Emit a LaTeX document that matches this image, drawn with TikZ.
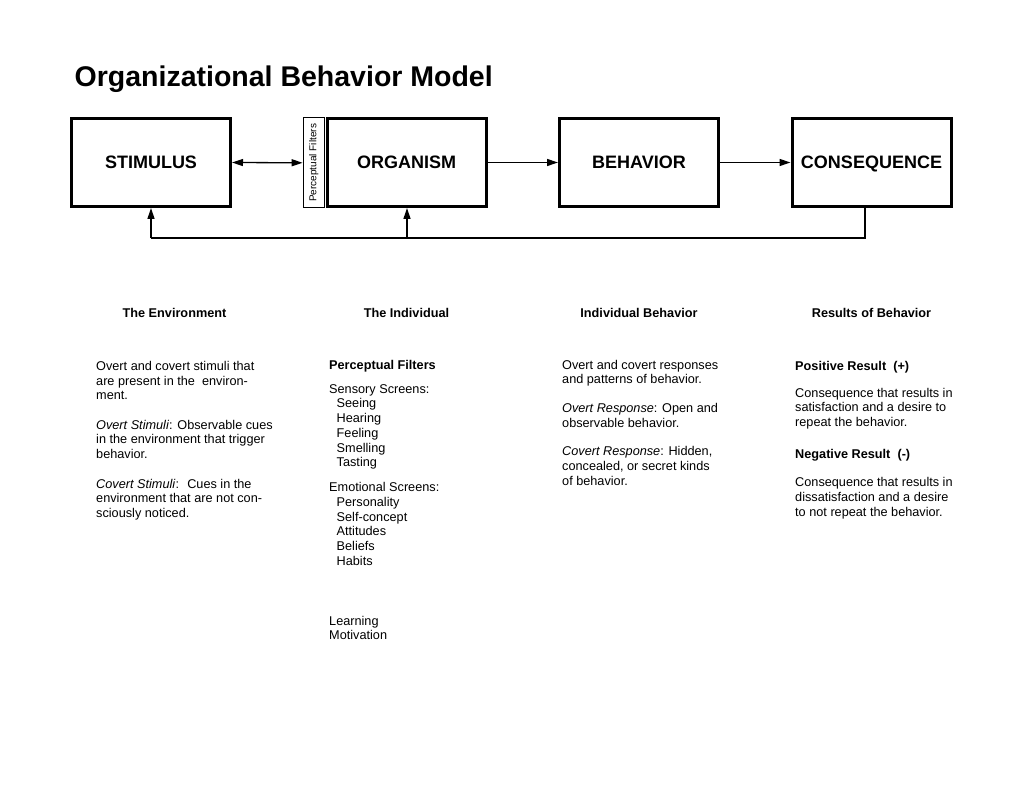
\documentclass[tikz,border=0pt]{standalone}
\usepackage{fontspec}
\setmainfont{Liberation Sans}
\usetikzlibrary{arrows.meta}
\newcommand\bodyfont{\fontsize{12.7}{14.7}\selectfont}
\newcommand\ind{\hspace*{7.5pt}}
\begin{document}
\begin{tikzpicture}[x=1pt,y=-1pt,
  bigbox/.style={draw, line width=3pt, minimum width=159pt, minimum height=88pt,
    inner sep=0pt, outer sep=1.5pt, text height=13pt, text depth=0pt,
    font=\fontsize{18}{20}\selectfont\bfseries},
  pfbox/.style={draw, line width=1.2pt, minimum width=21pt, minimum height=90pt,
    inner sep=0pt, outer sep=0.6pt},
  conn/.style={line width=1.3pt},
  tip/.style={-{Triangle[length=11pt,width=7pt]}},
  head/.style={anchor=base, inner sep=0pt, font=\bodyfont\bfseries},
  body/.style={anchor=base west, inner sep=0pt, font=\bodyfont}
]
\useasboundingbox (0,0) rectangle (1023,791);

% title
\node[anchor=base west, inner sep=0pt, font=\fontsize{28.5}{32}\selectfont\bfseries]
  (title) at (74.5,87) {Organizational Behavior Model};

% boxes
\node[bigbox] (stim) at (151,162.5) {STIMULUS};
\node[pfbox]  (pf)   at (313.7,162.8) {};
\node[rotate=90, inner sep=0pt, font=\fontsize{10}{12}\selectfont] (pft) at (pf.center) {Perceptual Filters};
\node[bigbox] (org)  at (406.5,162.5) {ORGANISM};
\node[bigbox] (beh)  at (639,162.5) {BEHAVIOR};
\node[bigbox] (cons) at (871.5,162.5) {CONSEQUENCE};

% connectors
\draw[conn, {Triangle[length=11pt,width=7pt]}-{Triangle[length=11pt,width=7pt]}] (stim.east) -- (pf.west);
\draw[conn, tip] (org.east) -- (beh.west);
\draw[conn, tip] (beh.east) -- (cons.west);

\coordinate (fbR) at (865,238);
\coordinate (fbL) at (151,238);
\coordinate (fbM) at (407,238);
\draw[conn] (fbR |- cons.south) -- (fbR) -- (fbL);
\draw[conn, tip] (fbL) -- (stim.south);
\draw[conn, tip] (fbM) -- (fbM |- org.south);

% headers
\node[head] (h1) at (174.5,317.3) {The Environment};
\node[head] (h2) at (406.5,317.3) {The Individual};
\node[head] (h3) at (639,317.3)   {Individual Behavior};
\node[head] (h4) at (871.5,317.3) {Results of Behavior};

% column 1
\node[body] (c1) at (96,370.5) {\begin{tabular}[t]{@{}l@{}}
Overt and covert stimuli that\\
are present in the \ environ-\\
ment.\\
\\
\textit{Overt Stimuli}: Observable cues\\
in the environment that trigger\\
behavior.\\
\\
\textit{Covert Stimuli}: \ Cues in the\\
environment that are not con-\\
sciously noticed.
\end{tabular}};

% column 2
\node[body, font=\bodyfont\bfseries] (c2a) at (329,370) {Perceptual Filters};
\node[body] (c2b) at (329,393.3) {\begin{tabular}[t]{@{}l@{}}
Sensory Screens:\\
\ind Seeing\\
\ind Hearing\\
\ind Feeling\\
\ind Smelling\\
\ind Tasting
\end{tabular}};
\node[body] (c2c) at (329,491.7) {\begin{tabular}[t]{@{}l@{}}
Emotional Screens:\\
\ind Personality\\
\ind Self-concept\\
\ind Attitudes\\
\ind Beliefs\\
\ind Habits
\end{tabular}};
\node[body] (c2d) at (329,625) {\begin{tabular}[t]{@{}l@{}}
Learning\\
Motivation
\end{tabular}};

% column 3
\node[body] (c3a) at (562,369.3) {\begin{tabular}[t]{@{}l@{}}
Overt and covert responses\\
and patterns of behavior.
\end{tabular}};
\node[body] (c3b) at (562,412.7) {\begin{tabular}[t]{@{}l@{}}
\textit{Overt Response}: Open and\\
observable behavior.
\end{tabular}};
\node[body] (c3c) at (562,456) {\begin{tabular}[t]{@{}l@{}}
\textit{Covert Response}: Hidden,\\
concealed, or secret kinds\\
of behavior.
\end{tabular}};

% column 4
\node[body, font=\bodyfont\bfseries] (c4a) at (795,370.7) {Positive Result \ (+)};
\node[body] (c4b) at (795,397.3) {\begin{tabular}[t]{@{}l@{}}
Consequence that results in\\
satisfaction and a desire to\\
repeat the behavior.
\end{tabular}};
\node[body, font=\bodyfont\bfseries] (c4c) at (795,458.3) {Negative Result \ (-)};
\node[body] (c4d) at (795,486.7) {\begin{tabular}[t]{@{}l@{}}
Consequence that results in\\
dissatisfaction and a desire\\
to not repeat the behavior.
\end{tabular}};
\end{tikzpicture}
\end{document}
